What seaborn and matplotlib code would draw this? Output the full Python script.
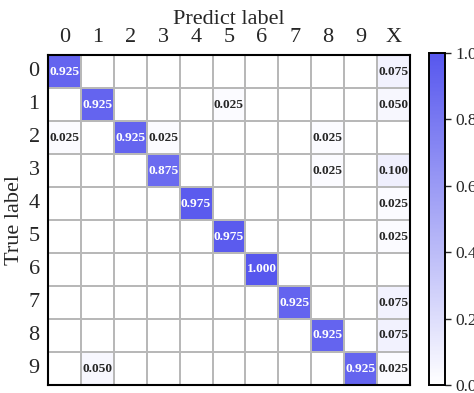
import numpy as np
import matplotlib
matplotlib.use('Agg')
import matplotlib.pyplot as plt
from matplotlib.colors import LinearSegmentedColormap
import seaborn as sns

# labels
pred_labels = ['0', '1', '2', '3', '4', '5', '6', '7', '8', '9', 'X']
true_labels = ['0', '1', '2', '3', '4', '5', '6', '7', '8', '9']

# confusion matrix rows (true label) -> columns (predicted label)
row0 = [0.925, 0, 0, 0, 0, 0, 0, 0, 0, 0, 0.075]
row1 = [0, 0.925, 0, 0, 0, 0.025, 0, 0, 0, 0, 0.050]
row2 = [0.025, 0, 0.925, 0.025, 0, 0, 0, 0, 0.025, 0, 0]
row3 = [0, 0, 0, 0.875, 0, 0, 0, 0, 0.025, 0, 0.100]
row4 = [0, 0, 0, 0, 0.975, 0, 0, 0, 0, 0, 0.025]
row5 = [0, 0, 0, 0, 0, 0.975, 0, 0, 0, 0, 0.025]
row6 = [0, 0, 0, 0, 0, 0, 1.000, 0, 0, 0, 0]
row7 = [0, 0, 0, 0, 0, 0, 0, 0.925, 0, 0, 0.075]
row8 = [0, 0, 0, 0, 0, 0, 0, 0, 0.925, 0, 0.075]
row9 = [0, 0.050, 0, 0, 0, 0, 0, 0, 0, 0.925, 0.025]

cm = np.array([row0, row1, row2, row3, row4, row5, row6, row7, row8, row9])
annot = np.where(cm > 0, np.vectorize(lambda v: f'{v:.3f}')(cm), '')

sns.set_style('white')
plt.rcParams['font.family'] = ['Liberation Serif', 'DejaVu Serif']

cmap = LinearSegmentedColormap.from_list('wb', ['#ffffff', '#5757ee'])

fig = plt.figure(figsize=(4.74, 3.93), dpi=100)
ax = fig.add_axes([48 / 474, 1 - 385 / 393, 362 / 474, 330 / 393])
cax = fig.add_axes([429 / 474, 1 - 385 / 393, 16 / 474, 332 / 393])

sns.heatmap(cm, ax=ax, cbar_ax=cax, cmap=cmap, vmin=0, vmax=1,
            annot=annot, fmt='', linewidths=1.2, linecolor='#b8b8b8',
            annot_kws={'fontsize': 9.6, 'fontweight': 'bold'},
            xticklabels=pred_labels, yticklabels=true_labels)

ax.xaxis.tick_top()
ax.xaxis.set_label_position('top')
ax.set_xlabel('Predict label', fontsize=16, labelpad=3)
ax.set_ylabel('True label', fontsize=16, labelpad=3)
ax.tick_params(axis='both', length=0, labelsize=16, pad=6)
ax.tick_params(axis='y', rotation=0)
for s in ax.spines.values():
    s.set_visible(True)
    s.set_color('black')
    s.set_linewidth(1.5)

cax.tick_params(labelsize=12.5, length=4, width=1, direction='out')
cax.set_yticks([0.0, 0.2, 0.4, 0.6, 0.8, 1.0])
cax.set_yticklabels(['0.0', '0.2', '0.4', '0.6', '0.8', '1.0'])
for s in cax.spines.values():
    s.set_visible(True)
    s.set_color('black')
    s.set_linewidth(1.2)

fig.savefig('out.png', dpi=100)
